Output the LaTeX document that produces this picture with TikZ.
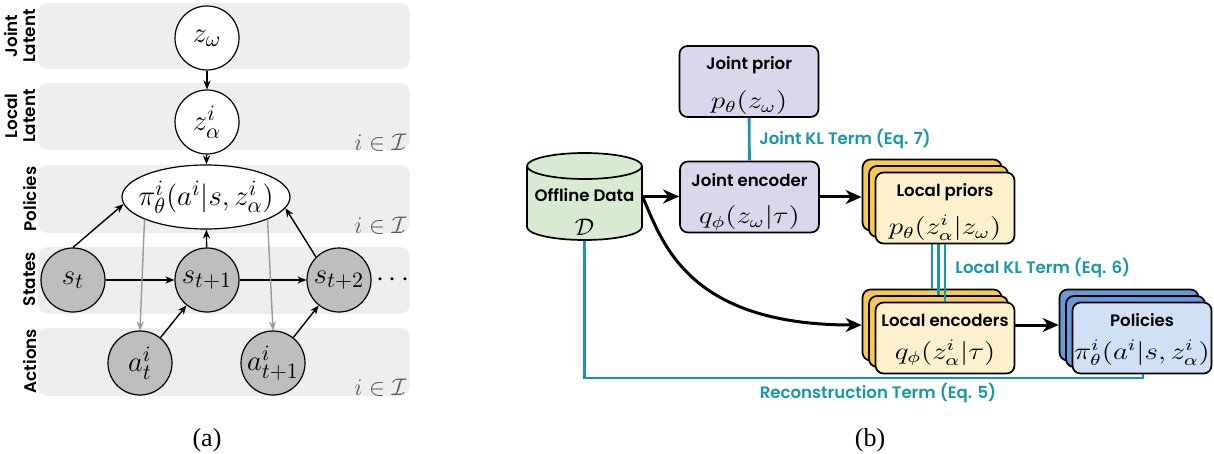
\documentclass[tikz,border=0pt]{standalone}
\usepackage{fontspec}
\usepackage{graphicx}
\usetikzlibrary{arrows.meta,shapes.geometric}
\newfontfamily\labf{Poppins}[BoldFont={* SemiBold}]
\newfontfamily\capf{Liberation Serif}
\newcommand\mystretch[1]{\scalebox{1.22}[1]{#1}}
\definecolor{rowgray}{RGB}{238,238,238}
\definecolor{nodegray}{RGB}{190,190,190}
\definecolor{tealc}{RGB}{22,152,168}
\definecolor{lav}{RGB}{220,214,236}
\definecolor{grn}{RGB}{216,234,210}
\definecolor{ylwF}{RGB}{253,240,205}
\definecolor{ylwB}{RGB}{247,201,82}
\definecolor{bluF}{RGB}{208,225,245}
\definecolor{bluB}{RGB}{104,152,214}
\begin{document}
\begin{tikzpicture}[x=0.5pt,y=-0.5pt,
  rowbg/.style={fill=rowgray, rounded corners=5pt},
  rowlab/.style={rotate=90, font=\labf\bfseries\fontsize{8.4}{9}\selectfont, align=center, inner sep=0},
  wnode/.style={circle, draw, line width=0.6pt, fill=white, minimum size=32pt, inner sep=0, font=\fontsize{15}{18}\selectfont},
  gnode/.style={wnode, fill=nodegray},
  aarr/.style={-{Stealth[length=4.5pt,width=3.6pt]}, line width=0.7pt},
  garr/.style={aarr, draw=black!40},
  iinI/.style={anchor=east, font=\fontsize{12}{14}\selectfont, text=black!65, inner sep=0},
  box/.style={draw, line width=0.85pt, rounded corners=4pt, minimum width=69.5pt, minimum height=35.5pt, inner sep=0},
  ttl/.style={font=\labf\bfseries\fontsize{8.3}{10}\selectfont, inner sep=0},
  mth/.style={font=\fontsize{11.5}{13}\selectfont, inner sep=0},
  tlab/.style={font=\labf\bfseries\fontsize{8.3}{10}\selectfont, text=tealc, inner sep=0},
  tline/.style={draw=tealc, line width=1.45pt},
  barr/.style={-{Stealth[length=8pt,width=7pt,inset=2.5pt]}, line width=1.5pt},
  caplab/.style={font=\capf\fontsize{13}{15}\selectfont, inner sep=0}
]
\useasboundingbox (0,0) rectangle (1214,454);

% ---------------- panel (a) ----------------
\fill[rowbg] (38,3) rectangle (410,69);
\fill[rowbg] (38,83) rectangle (410,150);
\fill[rowbg] (38,165) rectangle (410,233);
\fill[rowbg] (38,247) rectangle (410,314);
\fill[rowbg] (38,328) rectangle (410,396);

\node[rowlab] (lab1) at (20,36) {Joint\\Latent};
\node[rowlab] (lab2) at (20,116) {Local\\Latent};
\node[rowlab] (lab3) at (30,199) {Policies};
\node[rowlab] (lab4) at (30,279) {States};
\node[rowlab] (lab5) at (30,361) {Actions};

\node[wnode] (zw) at (207,38) {$z_\omega$};
\node[wnode] (za) at (207,122) {$z_\alpha^i$};
\node[draw, ellipse, fill=white, line width=0.6pt, minimum width=84pt, minimum height=32pt, inner sep=0] (pi) at (206,197) {};
\node[font=\fontsize{15}{18}\selectfont, inner sep=0] (pitxt) at (206,197) {$\pi_\theta^i(a^i|s,z_\alpha^i)$};
\node[gnode] (st) at (73,280) {$s_t$};
\node[gnode] (st1) at (207,280) {$s_{t+1}$};
\node[gnode] (st2) at (339,280) {$s_{t+2}$};
\node[font=\fontsize{15}{18}\selectfont, inner sep=0] (dots) at (393,280) {$\cdots$};
\node[gnode] (at) at (140,363) {$a_t^i$};
\node[gnode] (at1) at (273,363) {$a_{t+1}^i$};

\node[iinI] (in1) at (407,143) {$i\in\mathcal{I}$};
\node[iinI] (in2) at (407,226) {$i\in\mathcal{I}$};
\node[iinI] (in3) at (407,388) {$i\in\mathcal{I}$};

\draw[aarr] (zw) -- (za);
\draw[aarr] (za) -- (pi);
\draw[aarr] (st.north) -- (pi.185);
\draw[aarr] (st2.135) -- (pi.-8);
\draw[aarr] (st1) -- (pi);
\draw[aarr] (st) -- (st1);
\draw[aarr] (st1) -- (st2);
\draw[aarr] (at) -- (st1);
\draw[aarr] (at1) -- (st2);
\draw[garr] (pi.200) -- (at.north);
\draw[garr] (pi.-20) -- (at1.north);

\node[caplab] (capa) at (207,440) {(a)};

% ---------------- panel (b) ----------------
% reconstruction line
\node[inner sep=0, minimum width=57.5pt, minimum height=43.5pt] (od) at (584.5,196.5) {};
\coordinate (rc) at (1143,378);
\node[box, fill=bluF, draw=none] (poref) at (1142,338) {};
\draw[tline] (od.south) |- (rc) -- (rc |- poref.south);

% offline data cylinder
\filldraw[fill=grn, line width=0.85pt]
  ([shift={(-28.75pt,15.25pt)}]od.center) -- ++(0,-30.5pt)
  arc[start angle=180, end angle=360, x radius=28.75pt, y radius=6.5pt]
  -- ++(0,30.5pt)
  arc[start angle=0, end angle=180, x radius=28.75pt, y radius=6.5pt] -- cycle;
\draw[line width=0.85pt] ([shift={(-28.75pt,15.25pt)}]od.center)
  arc[start angle=180, end angle=360, x radius=28.75pt, y radius=6.5pt];
\node[ttl] (odt) at (584.5,195) {Offline Data};
\node[mth] (odm) at (584.5,227) {$\mathcal{D}$};

% joint prior / encoder
\node[box, fill=lav] (jp) at (749,81.5) {};
\node[ttl] (jpt) at (749,65) {Joint prior};
\node[mth] (jpm) at (749,103) {\mystretch{$p_\theta(z_\omega)$}};
\node[box, fill=lav] (je) at (749.5,197) {};
\node[ttl] (jet) at (749.5,180) {Joint encoder};
\node[mth] (jem) at (749.5,218) {\mystretch{$q_\phi(z_\omega|\tau)$}};
\draw[tline] (jp) -- (je);
\node[tlab, anchor=west] (jkl) at (759,139) {Joint KL Term (Eq. 7)};

% local priors and encoders stacks
\node[box, fill=ylwB] (lpb) at (932,195) {};
\node[box, fill=ylwB] (leb) at (932,325) {};
\draw[tline] (lpb.south) -- (leb.north);
\node[box, fill=ylwB] (lpm) at (938.5,201.5) {};
\node[box, fill=ylwB] (lem) at (938.5,331.5) {};
\draw[tline] (lpm.south) -- (lem.north);
\node[box, fill=ylwF] (lpf) at (945,208) {};
\node[box, fill=ylwF] (lef) at (945,338) {};
\draw[tline] (lpf.south) -- (lef.north);
\node[ttl] (lpt) at (945,192) {Local priors};
\node[mth] (lpmt) at (945,228) {\mystretch{$p_\theta(z_\alpha^i|z_\omega)$}};
\node[ttl] (let) at (945,320) {Local encoders};
\node[mth] (lemt) at (945,353) {\mystretch{$q_\phi(z_\alpha^i|\tau)$}};
\node[tlab, anchor=west] (lkl) at (955,268) {Local KL Term (Eq. 6)};

% policies stack
\node[box, fill=bluB] (pob) at (1129,325) {};
\node[box, fill=bluB] (pom) at (1135.5,331.5) {};
\node[box, fill=bluF] (pof) at (1142,338) {};
\node[ttl] (pot) at (1142,320) {Policies};
\node[mth] (pomt) at (1142,353) {\mystretch{$\pi_\theta^i(a^i|s,z_\alpha^i)$}};

\node[tlab] (rcl) at (878,393) {Reconstruction Term (Eq. 5)};

% black arrows
\draw[barr] (od.east) -- (je.west |- od.east);
\draw[barr] (je.east) -- (lpb.west |- je.east);
\draw[barr] (od.east) .. controls (662,240) and (685,325) .. (leb.west);
\draw[barr] (pob.west -| lef.east) -- (pob.west);

\node[caplab] (capb) at (870,440) {(b)};
\end{tikzpicture}
\end{document}
